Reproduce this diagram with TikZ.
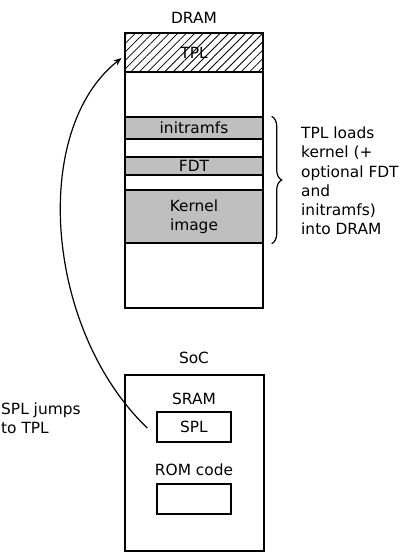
\documentclass[tikz,border=0pt]{standalone}
\usepackage{fontspec}
\setmainfont{DejaVu Sans}
\usepackage{tikz}
\usetikzlibrary{positioning,arrows.meta,patterns.meta,decorations.pathreplacing}
\definecolor{memGris}{HTML}{BFBFBF}

\begin{document}
\begin{tikzpicture}[
        x=1pt, y=-1pt,
        >=Stealth,
        font=\fontsize{15.4}{19.2}\selectfont,
        box/.style={draw, line width=1.4pt, inner sep=0pt, minimum width=138pt},
        region/.style={box, fill=memGris},
        hatched/.style={box, pattern={Lines[angle=45, distance=6pt, line width=0.8pt]}},
        small/.style={draw, line width=1.4pt, inner sep=0pt, minimum width=74pt, minimum height=30pt},
        lbl/.style={inner sep=1pt},
        note/.style={inner sep=0pt, align=left},
        jump/.style={-{Stealth[length=8pt, width=6pt]}, line width=1.2pt},
        brace/.style={decorate, decoration={brace, amplitude=10pt}, line width=1.2pt}
    ]
        \useasboundingbox (0,0) rectangle (408,559);

        % DRAM y sus zonas
        \node[lbl] (dramlbl) at (194,18) {DRAM};
        \node[box, minimum height=275pt] (dram) at (194,170.5) {};
        \node[hatched, minimum height=39pt] (tpl) at (194,52.5) {TPL};
        \node[region, minimum height=22pt] (initrd) at (194,128) {initramfs};
        \node[region, minimum height=18pt] (fdt) at (194,166) {FDT};
        \node[region, align=center, minimum height=53pt] (kernel) at (194,216.5) {Kernel\\image};

        % Llave y texto a la derecha
        \draw[brace] ([xshift=8pt]initrd.north east) -- ([xshift=8pt]kernel.south east);
        \node[note, anchor=west] (loads) at (301,181) {TPL loads\\kernel (+\\optional FDT\\and\\initramfs)\\into DRAM};

        % SoC con SRAM y ROM
        \node[lbl] (soclbl) at (194,358) {SoC};
        \node[box, minimum width=139pt, minimum height=176pt] (soc) at (194.5,463) {};
        \node[lbl] (sramlbl) at (194,399) {SRAM};
        \node[small] (spl) at (194,427) {SPL};
        \node[lbl] (romlbl) at (194,470) {ROM code};
        \node[small] (rom) at (194,499) {};

        % Salto de SPL a TPL
        \node[note, anchor=west] (jumps) at (1,418) {SPL jumps\\to TPL};
        \draw[jump] ([xshift=-9pt, yshift=-1pt]spl.west) .. controls (45,330) and (30,130) .. ([xshift=-3pt, yshift=-5.5pt]tpl.west);
    \end{tikzpicture}
\end{document}
